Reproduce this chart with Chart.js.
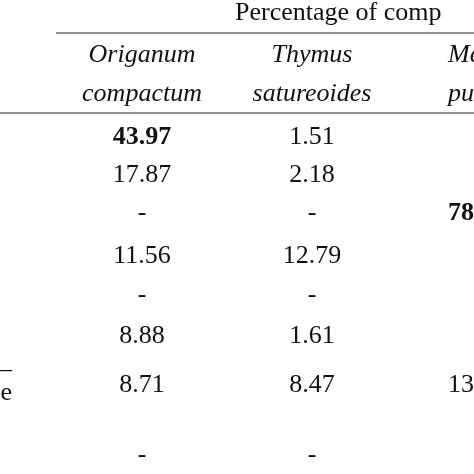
<!DOCTYPE html>
<html><head><meta charset="utf-8">
<script src="https://cdn.jsdelivr.net/npm/chart.js@4/dist/chart.umd.min.js"></script>
<style>html,body{margin:0;padding:0;background:#fff}#w{width:474px;height:474px}</style>
</head><body><div id="w"><canvas id="c"></canvas></div>
<script>
const headerTitle = "Percentage of comp";
const species = [["Origanum","compactum"],["Thymus","satureoides"],["Me","pule"]];
const col1 = ["43.97","17.87","-","11.56","-","8.88","8.71","-"];
const col2 = ["1.51","2.18","-","12.79","-","1.61","8.47","-"];
const col3 = ["","","78","","","","13",""];
const boldCells = {"0-0":true,"2-2":true};
const rowLevels = [137,175,213,256,295,336,385,455];
const colLevels = [0,1,1.93];
const columns = [col1,col2,col3];

const pts = [];
columns.forEach((col,ci)=>col.forEach((v,ri)=>pts.push({x:colLevels[ci],y:rowLevels[ri],label:v,key:ri+"-"+ci,ci:ci})));

const FONT = '26px "Liberation Serif", serif';
const tablePlugin = {
  id:'tbl',
  afterDatasetsDraw(chart){
    const ctx = chart.ctx, xs = chart.scales.x, ys = chart.scales.y;
    ctx.save();
    ctx.fillStyle = '#111';
    ctx.textBaseline = 'middle';
    ctx.font = FONT;
    ctx.textAlign = 'left';
    ctx.fillText(headerTitle, 235, ys.getPixelForValue(13));
    ctx.strokeStyle = '#222'; ctx.lineWidth = 1.2;
    ctx.beginPath(); ctx.moveTo(56, 33); ctx.lineTo(474, 33); ctx.stroke();
    ctx.beginPath(); ctx.moveTo(0, 113); ctx.lineTo(474, 113); ctx.stroke();
    ctx.font = 'italic ' + FONT;
    species.forEach((s,i)=>{
      const px = xs.getPixelForValue(colLevels[i]);
      ctx.textAlign = i===2 ? 'left' : 'center';
      const ox = i===2 ? -22 : 0;
      ctx.fillText(s[0], px+ox, ys.getPixelForValue(55));
      ctx.fillText(s[1], px+ox, ys.getPixelForValue(94));
    });
    chart.data.datasets[0].data.forEach(p=>{
      if(!p.label) return;
      ctx.font = (boldCells[p.key]?'bold ':'') + FONT;
      ctx.textAlign = p.ci===2 ? 'left' : 'center';
      const ox = p.ci===2 ? -22 : 0;
      ctx.fillText(p.label, xs.getPixelForValue(p.x)+ox, ys.getPixelForValue(p.y));
    });
    ctx.font = FONT;
    ctx.textAlign = 'right';
    ctx.fillText('–', 12, ys.getPixelForValue(370));
    ctx.fillText('e', 12, ys.getPixelForValue(393));
    ctx.restore();
  }
};

new Chart(document.getElementById('c'),{
  type:'scatter',
  data:{datasets:[{data:pts,pointRadius:0,backgroundColor:'transparent'}]},
  options:{
    responsive:true,maintainAspectRatio:false,animation:false,
    layout:{padding:0},
    plugins:{legend:{display:false},tooltip:{enabled:false}},
    scales:{
      x:{type:'linear',display:false,min:-142/170,max:332/170},
      y:{type:'linear',display:false,min:0,max:474,reverse:true}
    }
  },
  plugins:[tablePlugin]
});
</script></body></html>
